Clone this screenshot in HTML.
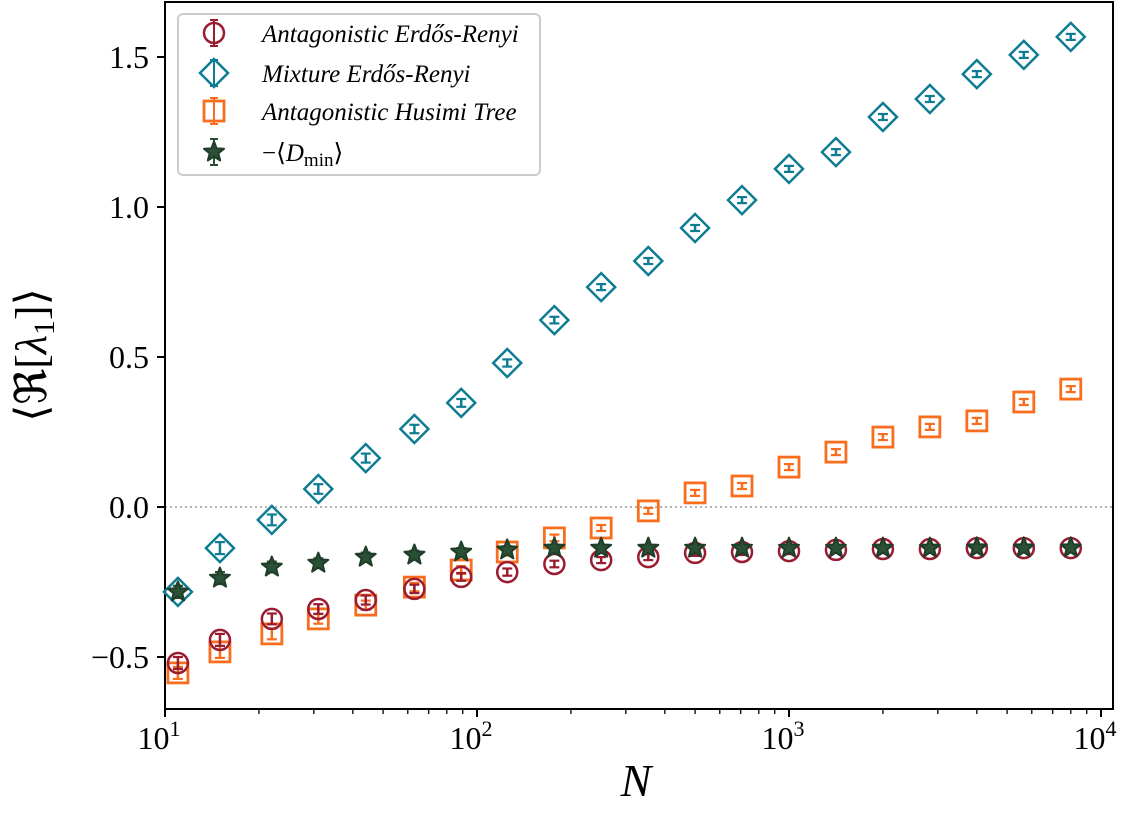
<!DOCTYPE html>
<html><head><meta charset="utf-8"><style>
html,body{margin:0;padding:0;background:#fff;}
svg{display:block;font-family:"Liberation Serif",serif;}
</style></head><body>
<svg id="chart" width="1125" height="817" viewBox="0 0 1125 817">
<g id="plot"></g>
</svg>
<script>
const Ns=[11,15,22,31,44,63,89,125,177,250,354,500,707,1000,1414,2000,2828,4000,5657,8000];
const mixture=[-0.283,-0.137,-0.043,0.06,0.163,0.26,0.347,0.48,0.623,0.733,0.82,0.93,1.023,1.127,1.183,1.3,1.36,1.443,1.507,1.567];
const antagER=[-0.52,-0.443,-0.373,-0.34,-0.31,-0.273,-0.233,-0.217,-0.19,-0.177,-0.167,-0.153,-0.15,-0.147,-0.143,-0.14,-0.14,-0.137,-0.137,-0.137];
const husimi=[-0.553,-0.483,-0.423,-0.373,-0.327,-0.267,-0.21,-0.15,-0.103,-0.07,-0.013,0.047,0.07,0.133,0.183,0.233,0.267,0.287,0.35,0.393];
const dmin=[-0.283,-0.237,-0.2,-0.187,-0.167,-0.16,-0.15,-0.143,-0.137,-0.137,-0.137,-0.137,-0.137,-0.137,-0.137,-0.137,-0.137,-0.136,-0.136,-0.136];
const errs=[0.02,0.02,0.018,0.016,0.015,0.014,0.013,0.012,0.011,0.01,0.01,0.01,0.01,0.01,0.01,0.01,0.01,0.01,0.01,0.01];
const yTicks=[-0.5,0,0.5,1.0,1.5];
const yTickLabels=["\u22120.5","0.0","0.5","1.0","1.5"];
const xDecades=[1,2,3,4];

const L=165,R=1113,T=2,B=709;
const X=n=>L+(Math.log10(n)-1)*312;
const Y=v=>507-v*300;
const NS="http://www.w3.org/2000/svg";
const g=document.getElementById('plot');
function mk(tag,at,parent){const e=document.createElementNS(NS,tag);for(const k in at)e.setAttribute(k,at[k]);(parent||g).appendChild(e);return e;}

let z=mk('line',{x1:L,x2:R,y1:Y(0),y2:Y(0),stroke:'#888','stroke-width':1.2,'stroke-dasharray':'2,3'});



yTicks.forEach((v,i)=>{
  let t=mk('line',{x1:L-8,x2:L,y1:Y(v),y2:Y(v),stroke:'#000','stroke-width':2});
  
  
  let tx=mk('text',{x:L-16,y:Y(v)+11,'text-anchor':'end','font-size':32});
  tx.textContent=yTickLabels[i];
  
  
});
for(let d=1;d<=4;d++){
  for(let m=1;m<=9;m++){
    const v=m*Math.pow(10,d);
    const x=X(v);
    if(x>R)break;
    let t=mk('line',{x1:x,x2:x,y1:B,y2:B+(m==1?8:5),stroke:'#000','stroke-width':m==1?2:1.3});
    
    
  }
}
xDecades.forEach(d=>{
  const x=X(Math.pow(10,d));
  let tx=mk('text',{x:x-6,y:B+40,'text-anchor':'middle','font-size':32});
  tx.textContent='10';
  let s=mk('tspan',{dy:-13,'font-size':22},tx);s.textContent=d;
  
  
});

let fr=mk('rect',{x:L,y:T,width:R-L,height:B-T,fill:'none',stroke:'#000','stroke-width':2});



const cRed='#9b1b30',cTeal='#0e7c93',cOr='#f86e1e',cGr='#2a5135';
function marker(type,x,y,c,parent){
  let e;
  if(type=='circle')e=mk('circle',{cx:x,cy:y,r:10,fill:'none',stroke:c,'stroke-width':2.5},parent);
  else if(type=='diamond')e=mk('polygon',{points:`${x},${y-14} ${x+14},${y} ${x},${y+14} ${x-14},${y}`,fill:'none',stroke:c,'stroke-width':2.5},parent);
  else if(type=='square')e=mk('rect',{x:x-10,y:y-10,width:20,height:20,fill:'none',stroke:c,'stroke-width':2.8},parent);
  else{
    let p=[];for(let i=0;i<10;i++){const r=i%2?4.5:10.5;const a=-Math.PI/2+i*Math.PI/5;p.push((x+r*Math.cos(a)).toFixed(1)+','+(y+r*Math.sin(a)).toFixed(1));}
    e=mk('polygon',{points:p.join(' '),fill:c,stroke:'#1f3d28','stroke-width':2,'stroke-linejoin':'round'},parent);
  }
  return e;
}
function errbar(x,y,e,c,parent){
  const y1=Y(y+e),y2=Y(y-e);
  mk('line',{x1:x,x2:x,y1:y1,y2:y2,stroke:c,'stroke-width':2.5},parent);
  mk('line',{x1:x-5,x2:x+5,y1:y1,y2:y1,stroke:c,'stroke-width':2.2},parent);
  mk('line',{x1:x-5,x2:x+5,y1:y2,y2:y2,stroke:c,'stroke-width':2.2},parent);
}
function series(vals,type,c,name){
  const sg=mk('g',{});
  
  
  vals.forEach((v,i)=>{
    const x=X(Ns[i]);
    errbar(x,v,errs[i],c,sg);
    const m=marker(type,x,Y(v),c,sg);
    
    
  });
}
series(mixture,'diamond',cTeal,'mixture-erdos-renyi');
series(husimi,'square',cOr,'antagonistic-husimi-tree');
series(antagER,'circle',cRed,'antagonistic-erdos-renyi');
series(dmin,'star',cGr,'neg-d-min');

const lg=mk('g',{});


mk('rect',{x:178,y:14,width:362,height:161,rx:5,fill:'#fff',stroke:'#ccc','stroke-width':2},lg);
const items=[['circle',cRed,'Antagonistic Erdős-Renyi',33],['diamond',cTeal,'Mixture Erdős-Renyi',73],['square',cOr,'Antagonistic Husimi Tree',111],['star',cGr,'',152]];
items.forEach(it=>{
  const eg=mk('g',{},lg);
  
  
  const x=214,y=it[3];
  mk('line',{x1:x,x2:x,y1:y-13,y2:y+13,stroke:it[1],'stroke-width':2},eg);
  mk('line',{x1:x-4,x2:x+4,y1:y-13,y2:y-13,stroke:it[1],'stroke-width':2},eg);
  mk('line',{x1:x-4,x2:x+4,y1:y+13,y2:y+13,stroke:it[1],'stroke-width':2},eg);
  marker(it[0],x,y,it[1],eg);
  const t=mk('text',{x:262,y:y+9,'font-size':25,'font-style':'italic'},eg);
  if(it[2])t.textContent=it[2];
  else{
    t.setAttribute('font-style','normal');
    t.textContent='\u2212\u27E8';
    const a=mk('tspan',{'font-style':'italic'},t);a.textContent='D';
    const b=mk('tspan',{dy:5,'font-size':19},t);b.textContent='min';
    const c=mk('tspan',{dy:-5},t);c.textContent='\u27E9';
  }
});

const xt=mk('text',{x:636,y:796,'text-anchor':'middle','font-size':46,'font-style':'italic'});
xt.textContent='N';


const yt=mk('text',{x:0,y:0,'text-anchor':'middle','font-size':44,transform:'translate(46,355) rotate(-90)'});
yt.textContent='\u27E8\u211C[';
const yl=mk('tspan',{'font-style':'italic'},yt);yl.textContent='\u03BB';
const ys=mk('tspan',{dy:8,'font-size':30},yt);ys.textContent='1';
const ye=mk('tspan',{dy:-8},yt);ye.textContent=']\u27E9';


</script>
</body></html>
